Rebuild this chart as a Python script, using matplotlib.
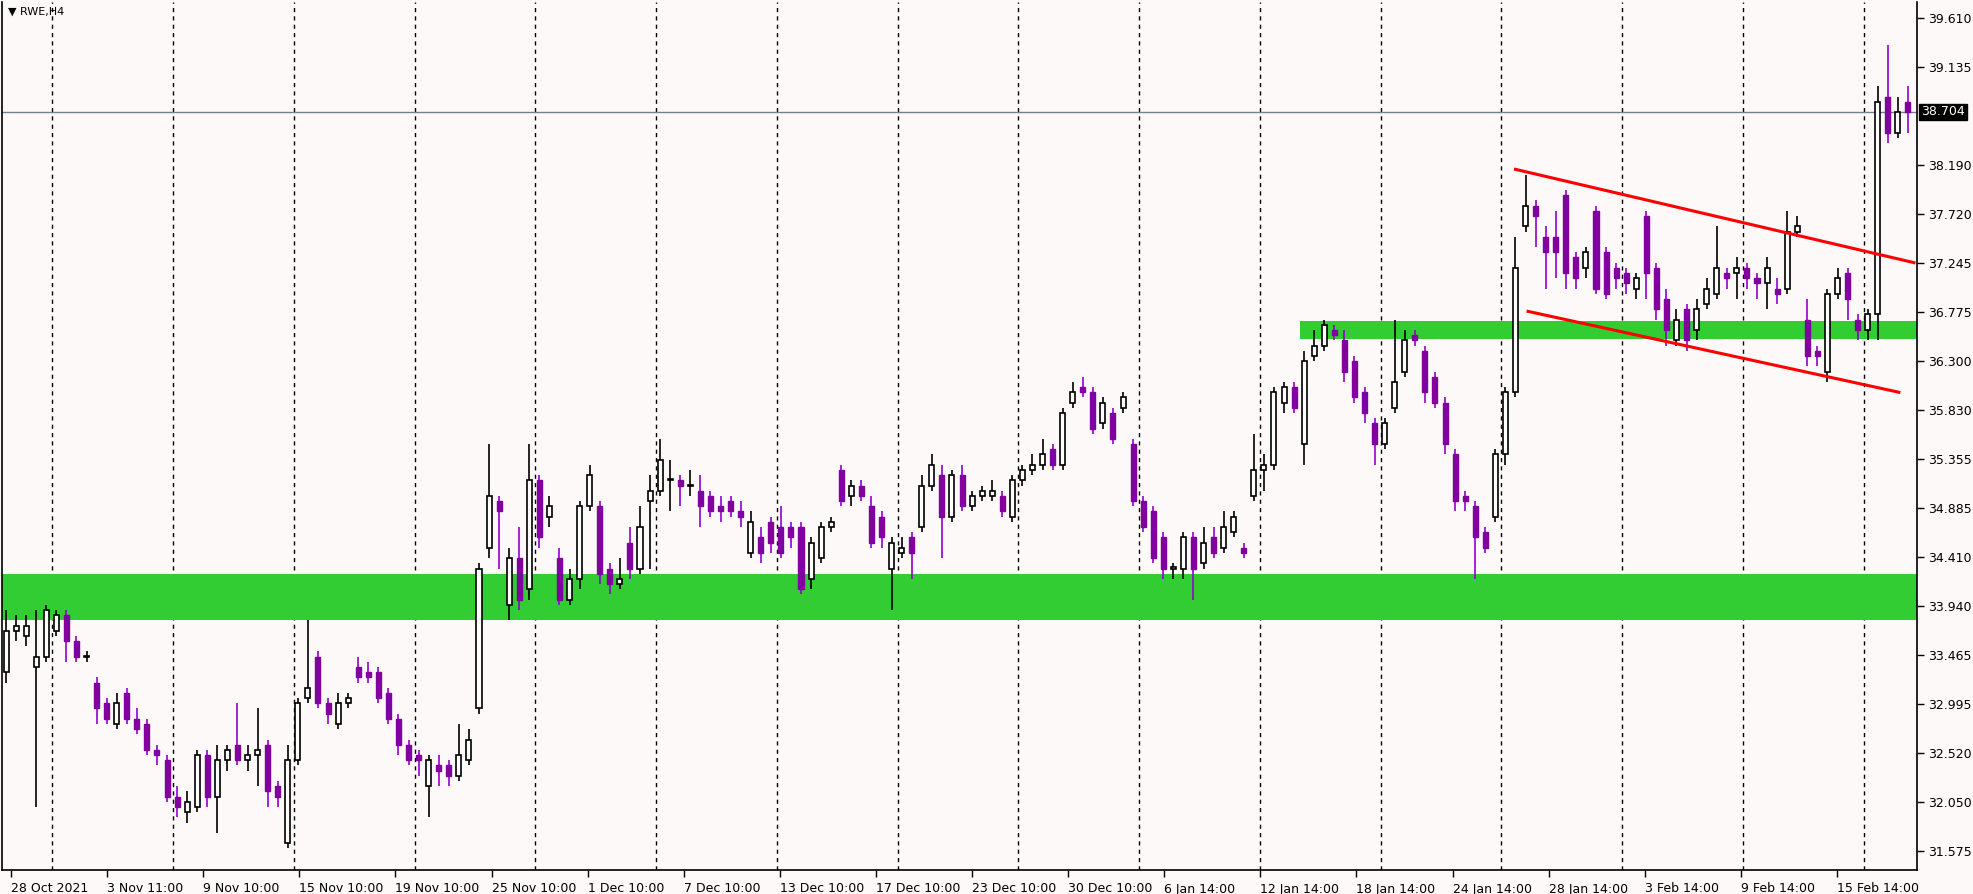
import matplotlib
matplotlib.use("Agg")
import matplotlib.pyplot as plt
from matplotlib.patches import Rectangle

opens = [33.3,33.7,33.65,33.35,33.45,33.7,33.85,33.6,33.45,33.2,33.0,32.8,33.1,32.85,32.8,32.55,32.45,32.1,31.95,32.0,
32.5,32.1,32.45,32.6,32.45,32.5,32.6,32.2,31.65,32.45,33.05,33.45,33.0,32.8,33.0,33.35,33.3,33.3,33.1,32.85,
32.6,32.5,32.2,32.4,32.4,32.3,32.45,32.95,34.5,34.95,33.95,34.4,34.1,35.15,34.8,34.4,34.0,34.2,34.9,34.9,
34.3,34.15,34.55,34.3,34.95,35.05,35.15,35.15,35.1,35.05,35.0,34.9,34.95,34.85,34.45,34.6,34.75,34.7,34.7,34.7,
34.2,34.4,34.7,35.25,35.0,35.1,34.9,34.8,34.3,34.45,34.6,34.7,35.1,35.2,34.8,35.2,34.9,35.0,35.0,35.0,
34.8,35.15,35.25,35.3,35.45,35.3,35.9,36.05,36.0,35.7,35.8,35.85,35.5,34.95,34.85,34.6,34.3,34.3,34.6,34.35,
34.6,34.5,34.65,34.5,35.0,35.25,35.3,35.9,36.05,35.5,36.35,36.45,36.6,36.5,36.3,36.0,35.7,35.5,35.85,36.2,
36.55,36.4,36.15,35.9,35.4,35.0,34.9,34.65,34.8,35.4,36.0,37.6,37.8,37.5,37.5,37.9,37.3,37.2,37.75,37.35,
37.2,37.15,37.0,37.7,37.2,36.9,36.5,36.8,36.6,36.85,36.95,37.15,37.15,37.2,37.1,37.05,37.0,37.0,37.55,36.7,
36.4,36.2,36.95,37.15,36.7,36.6,36.75,38.85,38.5,38.8]
closes = [33.7,33.75,33.75,33.45,33.9,33.85,33.6,33.45,33.45,32.95,32.85,33.0,32.85,32.75,32.55,32.5,32.1,32.0,32.05,32.5,
32.1,32.45,32.55,32.45,32.5,32.55,32.15,32.1,32.45,33.0,33.15,33.0,32.9,33.0,33.05,33.25,33.25,33.05,32.85,32.6,
32.45,32.45,32.45,32.35,32.3,32.5,32.65,34.3,35.0,34.85,34.4,34.0,35.15,34.6,34.9,34.0,34.2,34.9,35.2,34.25,
34.15,34.2,34.3,34.7,35.05,35.35,35.15,35.1,35.1,34.9,34.85,34.85,34.85,34.8,34.75,34.45,34.55,34.45,34.6,34.1,
34.55,34.7,34.75,34.95,35.1,35.0,34.55,34.6,34.55,34.5,34.45,35.1,35.3,34.8,35.2,34.9,35.0,35.05,35.05,34.85,
35.15,35.25,35.3,35.4,35.3,35.8,36.0,36.0,35.65,35.9,35.55,35.95,34.95,34.7,34.4,34.3,34.3,34.6,34.3,34.55,
34.45,34.7,34.8,34.45,35.25,35.3,36.0,36.05,35.85,36.3,36.45,36.65,36.55,36.2,35.95,35.8,35.5,35.7,36.1,36.5,
36.5,36.0,35.9,35.5,34.95,34.95,34.6,34.5,35.4,36.0,37.2,37.8,37.7,37.35,37.35,37.15,37.1,37.35,37.0,36.95,
37.1,37.05,37.1,37.15,36.8,36.6,36.7,36.5,36.8,37.0,37.2,37.1,37.2,37.1,37.05,37.2,36.95,37.55,37.6,36.35,
36.35,36.95,37.1,36.9,36.6,36.75,38.8,38.5,38.7,38.704]
highs = [33.9,33.85,33.85,33.9,33.95,33.9,33.9,33.65,33.5,33.25,33.05,33.1,33.15,32.95,32.85,32.6,32.5,32.2,32.15,32.55,
32.55,32.6,32.6,33.0,32.6,32.95,32.65,32.25,32.6,33.05,33.8,33.5,33.05,33.1,33.1,33.45,33.4,33.35,33.15,32.9,
32.65,32.55,32.5,32.5,32.45,32.8,32.75,34.35,35.5,35.0,34.5,34.7,35.5,35.2,35.0,34.5,34.3,34.95,35.3,34.95,
34.35,34.4,34.7,34.9,35.2,35.55,35.35,35.2,35.25,35.2,35.05,35.0,35.0,34.95,34.85,34.7,34.8,34.9,34.75,34.75,
34.6,34.75,34.8,35.3,35.15,35.15,35.0,34.85,34.6,34.6,34.65,35.2,35.4,35.3,35.25,35.3,35.05,35.1,35.15,35.05,
35.2,35.3,35.4,35.55,35.5,35.85,36.1,36.15,36.05,35.95,35.85,36.0,35.55,35.0,34.9,34.65,34.35,34.65,34.65,34.7,
34.7,34.85,34.85,34.55,35.6,35.4,36.05,36.1,36.1,36.4,36.6,36.7,36.65,36.6,36.35,36.05,35.75,35.75,36.7,36.6,
36.6,36.45,36.2,35.95,35.45,35.05,34.95,34.7,35.45,36.05,37.5,38.1,37.85,37.6,37.75,37.95,37.35,37.4,37.8,37.4,
37.25,37.2,37.15,37.75,37.25,37.0,36.8,36.85,36.9,37.1,37.6,37.2,37.3,37.25,37.15,37.3,37.1,37.75,37.7,36.9,
36.45,37.0,37.2,37.2,36.75,36.8,38.95,39.35,38.85,38.95]
lows = [33.2,33.6,33.55,32.0,33.4,33.65,33.4,33.4,33.4,32.8,32.8,32.75,32.8,32.7,32.5,32.4,32.05,31.9,31.85,31.95,
32.0,31.75,32.35,32.4,32.35,32.2,32.0,32.0,31.6,32.4,33.0,32.95,32.8,32.75,32.95,33.2,33.2,33.0,32.8,32.5,
32.4,32.3,31.9,32.2,32.2,32.25,32.4,32.9,34.4,34.3,33.8,33.9,34.0,34.5,34.7,33.95,33.95,34.1,34.85,34.15,
34.05,34.1,34.2,34.25,34.3,35.0,34.85,34.9,35.0,34.7,34.8,34.75,34.8,34.7,34.4,34.35,34.45,34.4,34.5,34.05,
34.1,34.35,34.65,34.9,34.9,34.95,34.5,34.5,33.9,34.4,34.2,34.65,35.05,34.4,34.75,34.85,34.85,34.95,34.95,34.8,
34.75,35.1,35.2,35.25,35.25,35.25,35.85,35.95,35.6,35.65,35.5,35.8,34.9,34.65,34.35,34.2,34.2,34.2,34.0,34.3,
34.4,34.45,34.6,34.4,34.95,35.05,35.25,35.8,35.8,35.3,36.3,36.4,36.5,36.1,35.9,35.7,35.3,35.45,35.8,36.15,
36.45,35.9,35.85,35.4,34.85,34.85,34.2,34.45,34.75,35.3,35.95,37.55,37.4,37.0,37.1,37.0,37.0,37.1,36.95,36.9,
37.0,36.95,36.9,36.9,36.7,36.45,36.45,36.4,36.5,36.8,36.9,37.0,36.9,37.0,36.9,36.8,36.85,36.95,37.5,36.25,
36.25,36.1,36.9,36.7,36.5,36.5,36.5,38.4,38.45,38.5]

date_labels = ["28 Oct 2021","3 Nov 11:00","9 Nov 10:00","15 Nov 10:00","19 Nov 10:00","25 Nov 10:00",
"1 Dec 10:00","7 Dec 10:00","13 Dec 10:00","17 Dec 10:00","23 Dec 10:00","30 Dec 10:00","6 Jan 14:00",
"12 Jan 14:00","18 Jan 14:00","24 Jan 14:00","28 Jan 14:00","3 Feb 14:00","9 Feb 14:00","15 Feb 14:00"]
price_ticks = [39.610,39.135,38.190,37.720,37.245,36.775,36.300,35.830,35.355,34.885,34.410,
33.940,33.465,32.995,32.520,32.050,31.575]
zones = [(33.80, 34.25, -1.0), (36.51, 36.69, 128.6)]
upper_line = [(150.0, 38.15), (189.6, 37.25)]
lower_line = [(151.25, 36.78), (188.1, 36.0)]
last_price = 38.704

BG = "#fdf9f8"
BEAR = "#8000a0"
BEARW = "#9400d3"

fig = plt.figure(figsize=(19.74, 8.94), dpi=100, facecolor=BG)
ax = fig.add_axes([2/1974, 1-870/894, (1917-2)/1974, (870-2)/894])
ax.set_facecolor(BG)
ax.set_xlim(-0.4, 189.9)
ax.set_ylim(31.392, 39.764)

for k in range(16):
    ax.axvline(4.6 + 12*k, color="black", ls=(0, (3, 3)), lw=1.0, zorder=1)

for lo, hi, x0 in zones:
    ax.add_patch(Rectangle((x0, lo), 200, hi-lo, color="#32cd32", lw=0, zorder=2))

ax.axhline(last_price, color="#708090", lw=1.0, zorder=2)

w = 0.5
for i, (o, c, h, l) in enumerate(zip(opens, closes, highs, lows)):
    if c >= o:
        ax.vlines(i, l, h, color="black", lw=1.2, zorder=3)
        ax.add_patch(Rectangle((i-w/2, o), w, max(c-o, 0.01), facecolor="white",
                               edgecolor="black", lw=1.2, zorder=4))
    else:
        ax.vlines(i, l, h, color=BEARW, lw=1.2, zorder=3)
        ax.add_patch(Rectangle((i-w/2, c), w, max(o-c, 0.01), facecolor=BEAR,
                               edgecolor=BEAR, lw=1.0, zorder=4))

for ln in (upper_line, lower_line):
    ax.plot([p[0] for p in ln], [p[1] for p in ln], color="red", lw=2.2, zorder=5)

ax.yaxis.tick_right()
ax.set_yticks(price_ticks)
ax.set_yticklabels([f"{p:.3f}" for p in price_ticks], fontsize=9)
ax.tick_params(axis="y", length=5, width=1, pad=3)
xt = [0.5 + 9.55*k for k in range(len(date_labels))]
ax.set_xticks(xt)
ax.set_xticklabels(date_labels, fontsize=9, ha="left")
ax.tick_params(axis="x", length=5, width=1, pad=4)
for s in ax.spines.values():
    s.set_color("black")
    s.set_linewidth(1.2)
ax.spines["top"].set_visible(False)

ax.annotate(f"{last_price:.3f}", xy=(1.0, last_price), xycoords=("axes fraction", "data"),
            xytext=(3, 0), textcoords="offset points", va="center", ha="left",
            fontsize=9, color="white",
            bbox=dict(boxstyle="square,pad=0.15", fc="black", ec="black"), zorder=10,
            annotation_clip=False)

ax.text(0.003, 0.995, "\u25bc RWE,H4", transform=ax.transAxes, fontsize=8, va="top", ha="left")

fig.savefig("out.png", dpi=100, facecolor=BG)
